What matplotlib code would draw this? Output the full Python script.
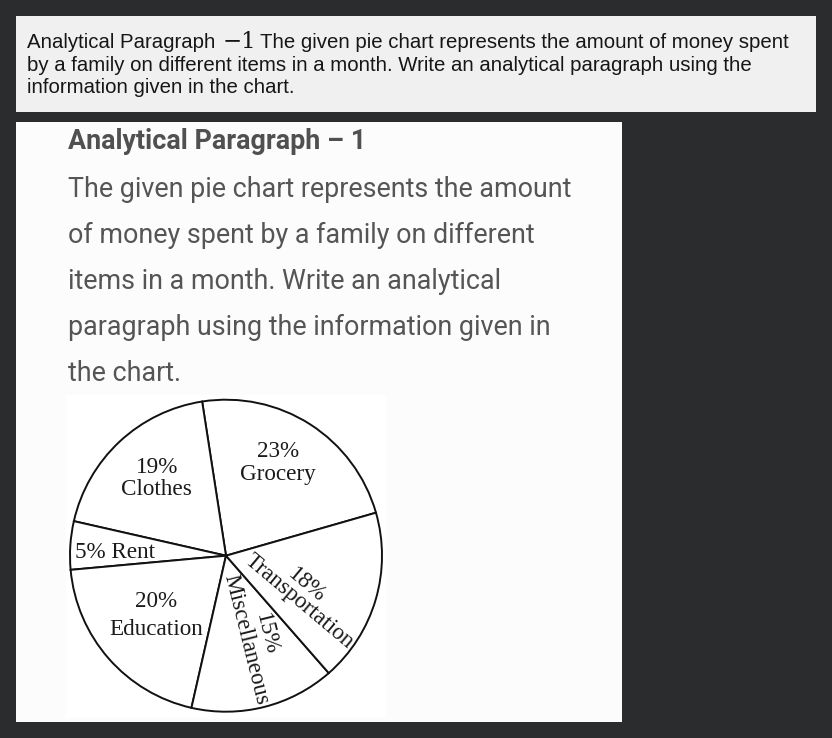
import matplotlib
matplotlib.use("Agg")
import matplotlib.pyplot as plt
from matplotlib.patches import Rectangle

# ---- data ----
categories = ["Grocery", "Clothes", "Rent", "Education", "Miscellaneous", "Transportation"]
percent = [23, 19, 5, 20, 15, 18]

header_lines = [
    "by a family on different items in a month. Write an analytical paragraph using the",
    "information given in the chart.",
]
panel_title = "Analytical Paragraph \u2013 1"
panel_lines = [
    "The given pie chart represents the amount",
    "of money spent by a family on different",
    "items in a month. Write an analytical",
    "paragraph using the information given in",
    "the chart.",
]

W, H = 832, 738
fig = plt.figure(figsize=(W / 100, H / 100), dpi=100)
fig.patch.set_facecolor("#2b2c2e")

bg = fig.add_axes([0, 0, 1, 1])
bg.set_xlim(0, W)
bg.set_ylim(H, 0)
bg.axis("off")

# header box
bg.add_patch(Rectangle((16, 16), 800, 95.5, facecolor="#f0f0f0", edgecolor="none"))
hdr_kw = dict(family="Liberation Sans", fontsize=14.7, color="#161616", va="baseline", ha="left")
bg.text(27, 48, "Analytical Paragraph", **hdr_kw)
bg.text(223, 48, "\u22121", family="DejaVu Serif", fontsize=16.5, color="#161616", va="baseline", ha="left")
bg.text(260, 48, "The given pie chart represents the amount of money spent", **hdr_kw)
for i, line in enumerate(header_lines):
    bg.text(27, 70.7 + 22.7 * i, line, **hdr_kw)

# white panel
bg.add_patch(Rectangle((16, 122), 606, 600, facecolor="#fcfcfc", edgecolor="none"))
bg.text(68, 149, panel_title, family="Roboto", fontweight="bold", fontsize=19.4,
        color="#505050", va="baseline", ha="left")
for i, line in enumerate(panel_lines):
    bg.text(68, 196.7 + 46 * i, line, family="Roboto", fontsize=19.4,
            color="#555555", va="baseline", ha="left")

# pie picture background
bg.add_patch(Rectangle((66, 395), 320, 323, facecolor="#ffffff", edgecolor="none"))

# pie
cx, cy, r = 226, 555.7, 156
ax = fig.add_axes([(cx - r) / W, (H - cy - r) / H, 2 * r / W, 2 * r / H])
ax.pie(percent, startangle=16, counterclock=True,
       colors=["white"] * len(percent),
       wedgeprops=dict(edgecolor="#111111", linewidth=1.4))
ax.set_xlim(-1, 1)
ax.set_ylim(-1, 1)
ax.set_aspect("equal")
ax.axis("off")

lab = dict(family="Liberation Serif", fontsize=16.7, color="#1a1a1a")
ax.text(0.335, 0.633, f"{percent[0]}%", ha="center", va="baseline", **lab)
ax.text(0.335, 0.488, categories[0], ha="center", va="baseline", **lab)
ax.text(-0.443, 0.527, f"{percent[1]}%", ha="center", va="baseline", **lab)
ax.text(-0.443, 0.388, categories[1], ha="center", va="baseline", **lab)
ax.text(-0.966, -0.015, f"{percent[2]}% {categories[2]}", ha="left", va="baseline", **lab)
ax.text(-0.45, -0.326, f"{percent[3]}%", ha="center", va="baseline", **lab)
ax.text(-0.45, -0.507, categories[3], ha="center", va="baseline", **lab)
ax.text(0.52, -0.19, f"{percent[5]}%", ha="center", va="center", rotation=-40,
        rotation_mode="anchor", **lab)
ax.text(0.47, -0.295, categories[5], ha="center", va="center", rotation=-40,
        rotation_mode="anchor", **lab)
ax.text(0.261, -0.505, f"{percent[4]}%", ha="center", va="center", rotation=-76,
        rotation_mode="anchor", **lab)
ax.text(0.13, -0.54, categories[4], ha="center", va="center", rotation=-76,
        rotation_mode="anchor", **lab)

fig.savefig("out.png", dpi=100, facecolor=fig.get_facecolor())
